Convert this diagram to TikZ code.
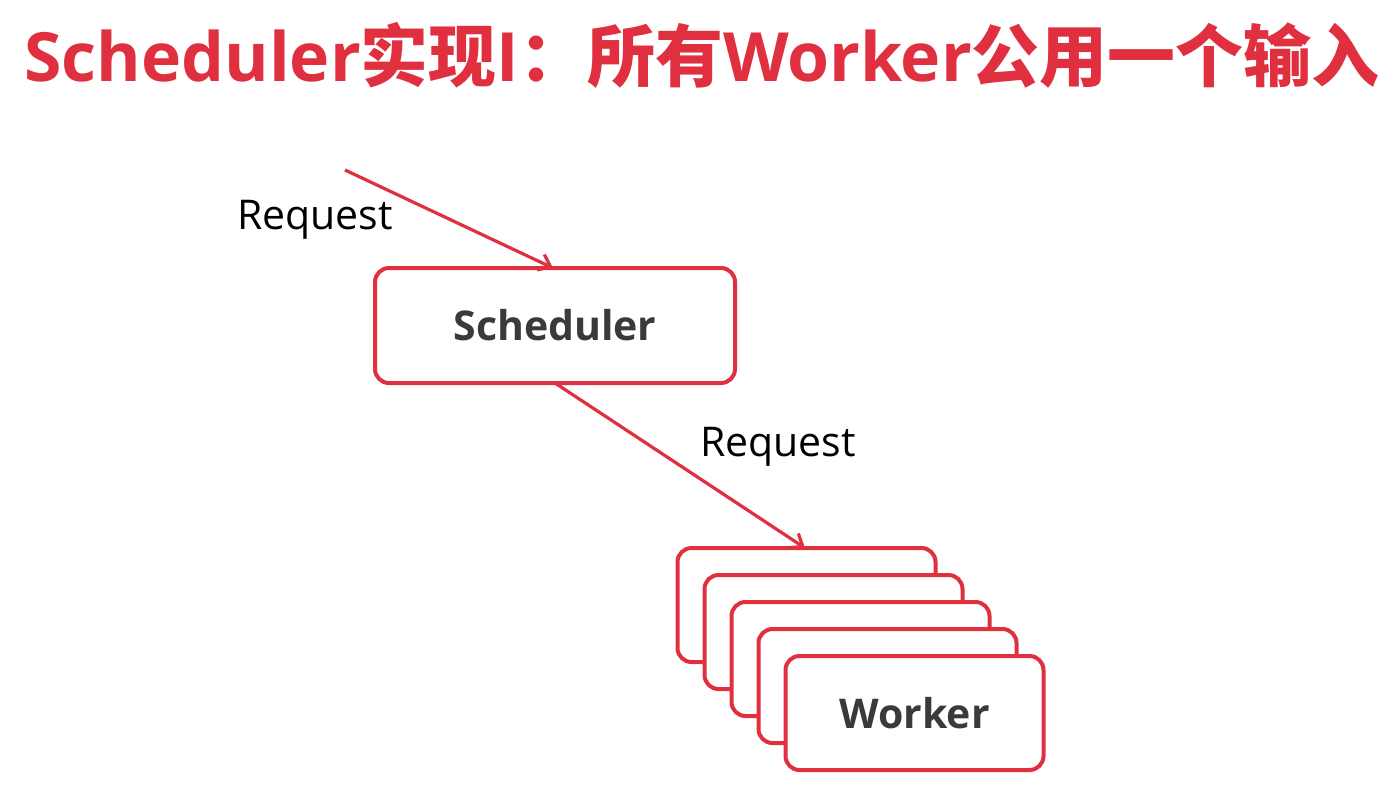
\documentclass[tikz,border=0pt]{standalone}
\usepackage{fontspec}
\setmainfont{Open Sans}
\newfontfamily\cjk{Noto Sans CJK SC}
\usetikzlibrary{arrows.meta}
\definecolor{myred}{HTML}{E0303F}
\definecolor{mytext}{HTML}{3A3A3A}
\tikzset{
  rbox/.style={draw=myred,line width=4pt,fill=white,rounded corners=14pt,minimum width=258pt,minimum height=114pt,inner sep=0pt},
  conn/.style={draw=myred,line width=3.2pt,-{Straight Barb[length=11pt,width=17pt]}},
  lbl/.style={font=\fontsize{41}{44}\selectfont,text=black}
}
\begin{document}
\begin{tikzpicture}[x=1pt,y=-1pt]
\useasboundingbox (0,0) rectangle (1397,796);
\fill[white] (0,0) rectangle (1397,796);
\node[text=myred] (title) at (702,55) {\resizebox{1355pt}{!}{\fontsize{56}{60}\selectfont\bfseries Scheduler{\cjk\bfseries 实现}I{\cjk\bfseries ：所有}Worker{\cjk\bfseries 公用一个输入}}};
\node[rbox,minimum width=360pt,minimum height=115pt] (sch) at (555,325.5) {\fontsize{41}{44}\selectfont\bfseries\color{mytext}Scheduler};
\coordinate (start) at (345,170);
\draw[conn] (start) -- (553,268) coordinate (sin);
\node[lbl] (l1) at (315,220) {Request};
\foreach \i in {0,...,4}{
  \node[rbox] (w\i) at (806.5+27*\i,605+27*\i) {};
}
\node[font=\fontsize{41}{44}\selectfont\bfseries,text=mytext] (wt) at (w4) {Worker};
\draw[conn] (555,383) -- (805,548);
\node[lbl] (l2) at (778,447) {Request};
\end{tikzpicture}
\end{document}
